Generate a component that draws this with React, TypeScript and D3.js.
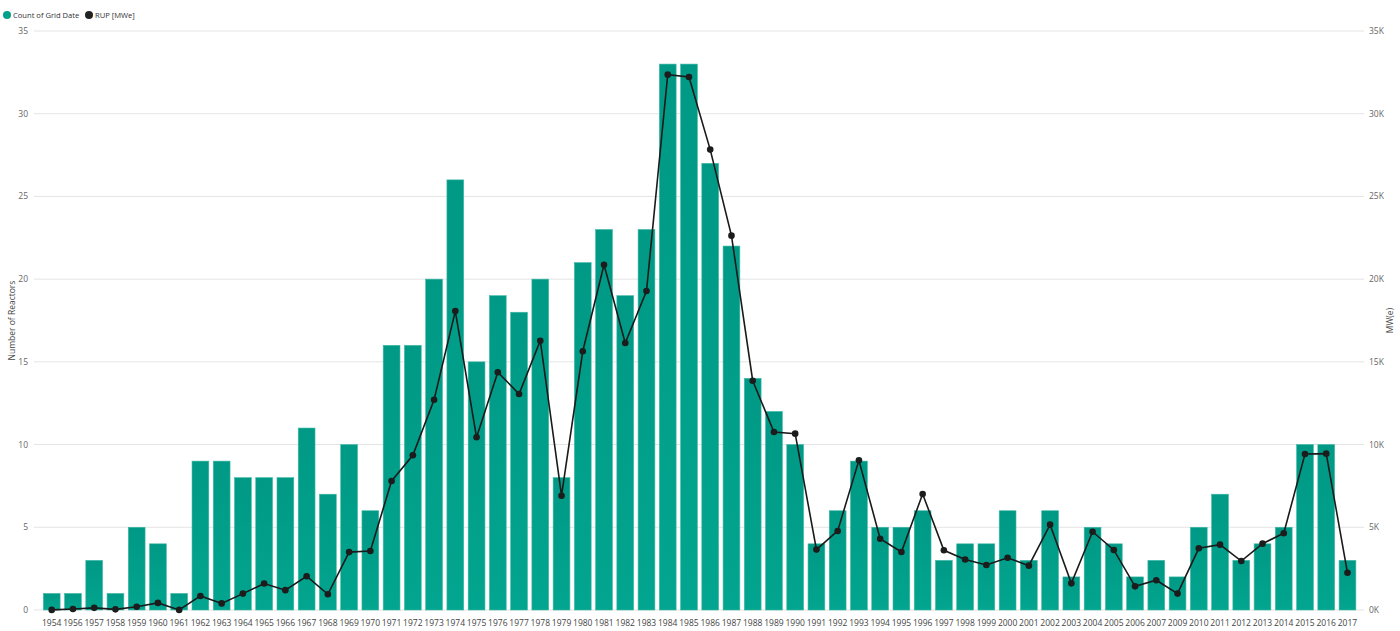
import { useEffect, useRef } from 'react'
import * as d3 from 'd3'

const years = [
  '1954', '1956', '1957', '1958', '1959', '1960', '1961', '1962', '1963', '1964',
  '1965', '1966', '1967', '1968', '1969', '1970', '1971', '1972', '1973', '1974',
  '1975', '1976', '1977', '1978', '1979', '1980', '1981', '1982', '1983', '1984',
  '1985', '1986', '1987', '1988', '1989', '1990', '1991', '1992', '1993', '1994',
  '1995', '1996', '1997', '1998', '1999', '2000', '2001', '2002', '2003', '2004',
  '2005', '2006', '2007', '2009', '2010', '2011', '2012', '2013', '2014', '2015',
  '2016', '2017',
]

// Count of Grid Date (number of reactors)
const reactors = [
  1, 1, 3, 1, 5, 4, 1, 9, 9, 8,
  8, 8, 11, 7, 10, 6, 16, 16, 20, 26,
  15, 19, 18, 20, 8, 21, 23, 19, 23, 33,
  33, 27, 22, 14, 12, 10, 4, 6, 9, 5,
  5, 6, 3, 4, 4, 6, 3, 6, 2, 5,
  4, 2, 3, 2, 5, 7, 3, 4, 5, 10,
  10, 3,
]

// RUP [MWe]
const rupMW = [
  5, 60, 130, 40, 200, 430, 5, 850, 400, 990,
  1600, 1200, 2040, 950, 3500, 3570, 7800, 9350, 12710, 18070,
  10440, 14370, 13060, 16280, 6910, 15640, 20870, 16140, 19280, 32360,
  32220, 27830, 22630, 13860, 10760, 10660, 3650, 4780, 9050, 4310,
  3510, 7010, 3610, 3050, 2720, 3160, 2680, 5160, 1610, 4730,
  3630, 1430, 1800, 990, 3730, 3950, 2960, 4010, 4640, 9430,
  9450, 2250,
]

const leftTicks = [0, 5, 10, 15, 20, 25, 30, 35]
const rightTicks = [0, 5000, 10000, 15000, 20000, 25000, 30000, 35000]

const W = 1400
const H = 631
const FONT = "'Segoe UI', 'Open Sans', sans-serif"

export default function App() {
  const svgRef = useRef<SVGSVGElement>(null)

  useEffect(() => {
    if (!svgRef.current) return
    const svg = d3.select(svgRef.current)
    svg.selectAll('*').remove()

    const x = d3.scaleBand<string>()
      .domain(years)
      .range([41.1, 1358.1])
      .paddingInner(0.21)
      .paddingOuter(0.105)

    const yL = d3.scaleLinear().domain([0, 35]).range([610, 31])
    const yR = d3.scaleLinear().domain([0, 35000]).range([610, 31])

    const defs = svg.append('defs')
    const grad = defs.append('linearGradient')
      .attr('id', 'bar-grad')
      .attr('x1', 0).attr('y1', 0).attr('x2', 0).attr('y2', 1)
    grad.append('stop').attr('offset', '0%').attr('stop-color', '#009985')
    grad.append('stop').attr('offset', '100%').attr('stop-color', '#02A58F')

    // gridlines
    svg.append('g')
      .selectAll('line')
      .data(leftTicks)
      .join('line')
      .attr('x1', 34)
      .attr('x2', 1364)
      .attr('y1', (d) => yL(d))
      .attr('y2', (d) => yL(d))
      .attr('stroke', '#e4e4e4')
      .attr('stroke-width', 1)

    // left tick labels
    svg.append('g')
      .selectAll('text')
      .data(leftTicks)
      .join('text')
      .attr('x', 28)
      .attr('y', (d) => yL(d))
      .attr('dy', '0.35em')
      .attr('text-anchor', 'end')
      .attr('font-family', FONT)
      .attr('font-size', 8.5)
      .attr('fill', '#666')
      .text((d) => d)

    // right tick labels
    svg.append('g')
      .selectAll('text')
      .data(rightTicks)
      .join('text')
      .attr('x', 1369)
      .attr('y', (d) => yR(d))
      .attr('dy', '0.35em')
      .attr('text-anchor', 'start')
      .attr('font-family', FONT)
      .attr('font-size', 8.5)
      .attr('fill', '#666')
      .text((d) => `${d / 1000}K`)

    // axis titles
    svg.append('text')
      .attr('transform', `translate(15,${(31 + 610) / 2}) rotate(-90)`)
      .attr('text-anchor', 'middle')
      .attr('font-family', FONT)
      .attr('font-size', 8.5)
      .attr('fill', '#444')
      .text('Number of Reactors')

    svg.append('text')
      .attr('transform', `translate(1393,${(31 + 610) / 2}) rotate(-90)`)
      .attr('text-anchor', 'middle')
      .attr('font-family', FONT)
      .attr('font-size', 8.5)
      .attr('fill', '#444')
      .text('MW(e)')

    // bars
    svg.append('g')
      .selectAll('rect')
      .data(years)
      .join('rect')
      .attr('x', (d) => x(d)!)
      .attr('y', (_, i) => yL(reactors[i]))
      .attr('width', x.bandwidth())
      .attr('height', (_, i) => yL(0) - yL(reactors[i]))
      .attr('fill', 'url(#bar-grad)')
      .attr('stroke', '#3fb8a6')
      .attr('stroke-width', 0.6)

    // x labels
    svg.append('g')
      .selectAll('text')
      .data(years)
      .join('text')
      .attr('x', (d) => x(d)! + x.bandwidth() / 2)
      .attr('y', 626)
      .attr('text-anchor', 'middle')
      .attr('font-family', FONT)
      .attr('font-size', 8.5)
      .attr('fill', '#444')
      .text((d) => d)

    // line
    const line = d3.line<number>()
      .x((_, i) => x(years[i])! + x.bandwidth() / 2)
      .y((d) => yR(d))

    svg.append('path')
      .datum(rupMW)
      .attr('d', line)
      .attr('fill', 'none')
      .attr('stroke', '#1a1a1a')
      .attr('stroke-width', 1.6)

    svg.append('g')
      .selectAll('circle')
      .data(rupMW)
      .join('circle')
      .attr('cx', (_, i) => x(years[i])! + x.bandwidth() / 2)
      .attr('cy', (d) => yR(d))
      .attr('r', 3.3)
      .attr('fill', '#1c1c1c')

    // legend
    const legendData = [
      { name: 'Count of Grid Date', color: '#01A08B', x: 7 },
      { name: 'RUP [MWe]', color: '#222', x: 89 },
    ]
    const legend = svg.append('g')
    legendData.forEach((d) => {
      legend.append('circle')
        .attr('cx', d.x)
        .attr('cy', 15)
        .attr('r', 4)
        .attr('fill', d.color)
      legend.append('text')
        .attr('x', d.x + 6)
        .attr('y', 15)
        .attr('dy', '0.35em')
        .attr('font-family', FONT)
        .attr('font-size', 7.6)
        .attr('fill', '#333')
        .text(d.name)
    })
  }, [])

  return (
    <svg
      ref={svgRef}
      width={W}
      height={H}
      style={{ position: 'absolute', left: 0, top: 0, background: '#fff' }}
    />
  )
}
